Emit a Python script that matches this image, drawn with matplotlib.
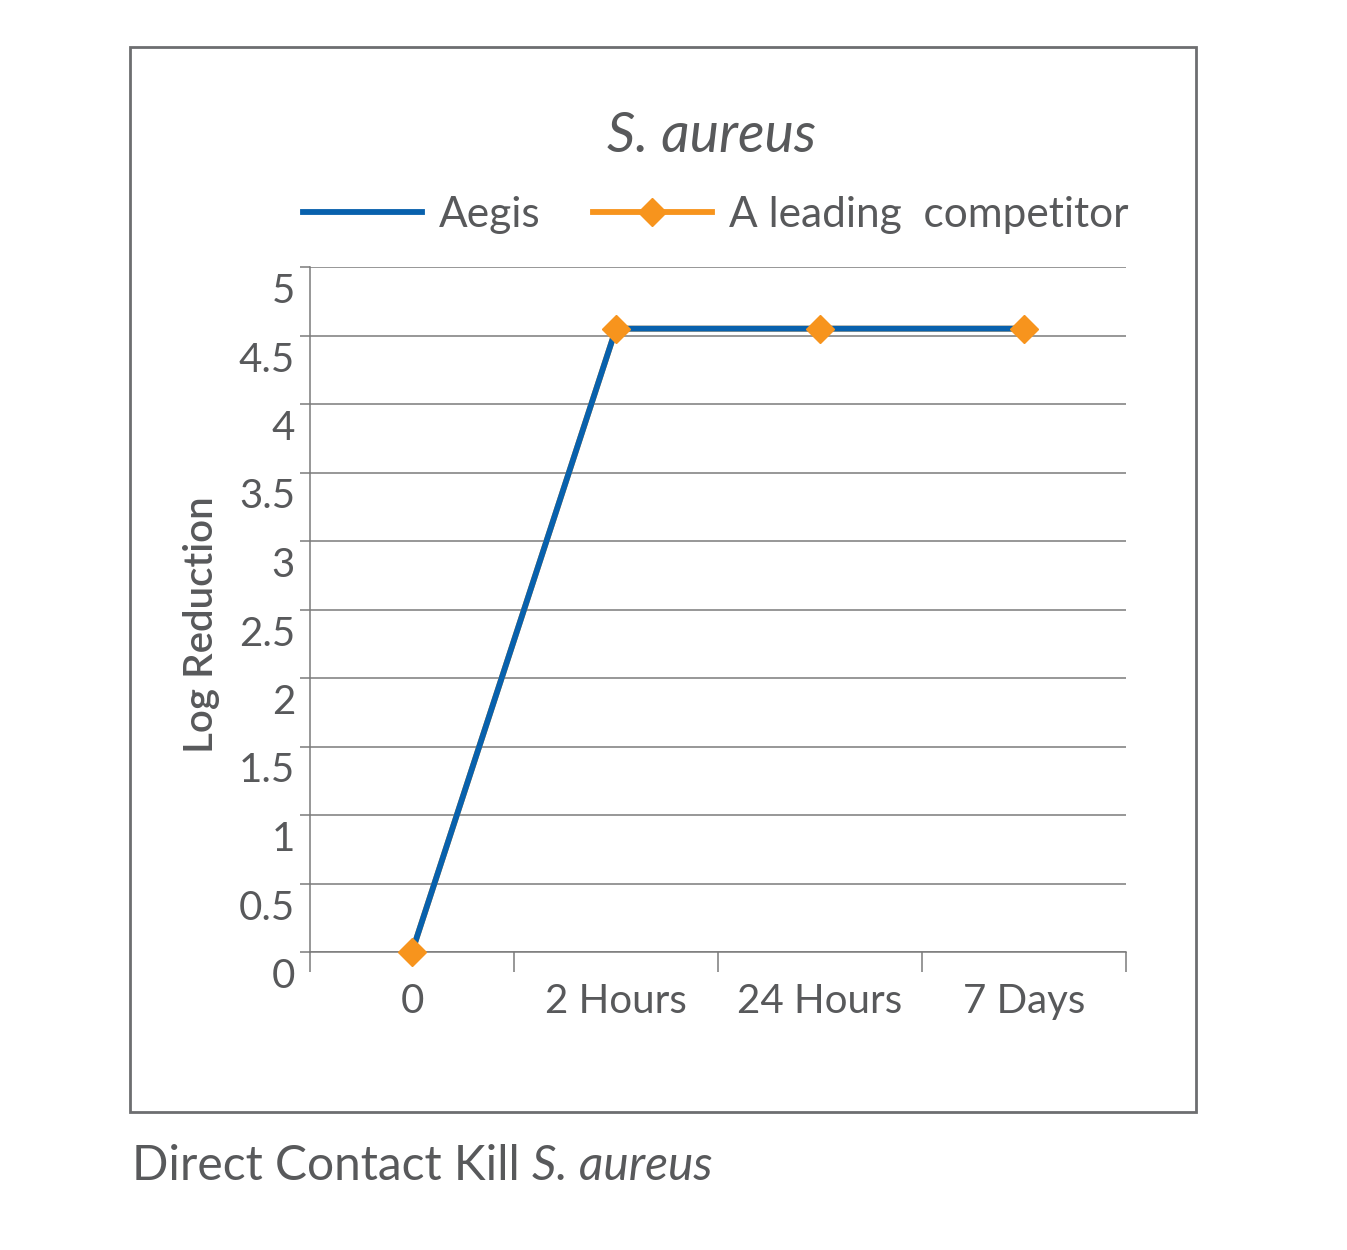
import matplotlib.pyplot as plt
import matplotlib.transforms as mtransforms
from matplotlib.patches import Rectangle
from matplotlib.lines import Line2D

categories = ['0', '2 Hours', '24 Hours', '7 Days']
aegis = [0, 4.55, 4.55, 4.55]
competitor = [0, 4.55, 4.55, 4.55]
y_ticks = [0, 0.5, 1, 1.5, 2, 2.5, 3, 3.5, 4, 4.5, 5]
y_tick_labels = ['0', '0.5', '1', '1.5', '2', '2.5', '3', '3.5', '4', '4.5', '5']

TEXT = '#58595b'
GRID = '#7a7a7a'
BLUE = '#0861ad'
ORANGE = '#f7941d'

plt.rcParams['font.family'] = ['Lato', 'DejaVu Sans']

W, H = 1347, 1250
fig = plt.figure(figsize=(W / 100, H / 100), dpi=100)
ax = fig.add_axes([310 / W, 1 - 952 / H, (1126 - 310) / W, (952 - 267) / H])

x = range(len(categories))
# orange line sits under the blue one, only its markers show on top
ax.plot(x, competitor, color=ORANGE, lw=4.2, zorder=2, clip_on=False)
ax.plot(x, aegis, color=BLUE, lw=4.2, zorder=3, clip_on=False)
ax.plot(x, competitor, ls='none', marker='D', ms=14, color=ORANGE, zorder=4, clip_on=False)

ax.set_xlim(-0.5, 3.5)
ax.set_ylim(0, 5)
ax.set_xticks(list(x), categories)
ax.set_xticks([-0.5, 0.5, 1.5, 2.5, 3.5], minor=True)
ax.tick_params(axis='x', which='major', length=0, pad=22, labelsize=29, labelcolor=TEXT)
ax.tick_params(axis='x', which='minor', length=14.4, width=1.1, color=GRID)
ax.set_yticks(y_ticks, y_tick_labels)
ax.tick_params(axis='y', length=7.2, width=1.1, color=GRID, pad=3.6, labelsize=29, labelcolor=TEXT)
ax.grid(axis='y', color=GRID, lw=1.1)
ax.set_axisbelow(True)
for s in ['top', 'right']:
    ax.spines[s].set_visible(False)
for s in ['left', 'bottom']:
    ax.spines[s].set_color(GRID)
    ax.spines[s].set_linewidth(1.1)

# y labels sit a bit below their gridlines in the original
shift = mtransforms.ScaledTranslation(0, -21 / 100, fig.dpi_scale_trans)
for lbl in ax.get_yticklabels():
    lbl.set_transform(lbl.get_transform() + shift)

fig.text(201 / W, 1 - 625 / H, 'Log Reduction', rotation=90, ha='center', va='center',
         fontsize=29, weight='semibold', color=TEXT)

fig.text(712 / W, 1 - 136 / H, 'S. aureus', style='italic', ha='center', va='center',
         fontsize=40, color=TEXT)

handles = [Line2D([], [], color=BLUE, lw=4.2),
           Line2D([], [], color=ORANGE, lw=4.2, marker='D', ms=14)]
ax.legend(handles, ['Aegis', 'A leading  competitor'], ncol=2, frameon=False,
          loc='center left', bbox_to_anchor=(303 / W, 1 - 215 / H),
          bbox_transform=fig.transFigure, borderpad=0, borderaxespad=0,
          fontsize=30.5, labelcolor=TEXT, handlelength=2.8, handletextpad=0.4,
          columnspacing=1.25, numpoints=1)

fig.add_artist(Rectangle((130 / W, 1 - 1112 / H), (1196 - 130) / W, (1112 - 47) / H,
                         transform=fig.transFigure, fill=False, ec='#6d6e70', lw=2))

cap = fig.text(132 / W, 1 - 1166 / H, 'Direct Contact Kill ', ha='left', va='center',
               fontsize=34.5, color=TEXT)
r = fig.canvas.get_renderer()
bb = cap.get_window_extent(renderer=r)
fig.text(bb.x1 / W, 1 - 1166 / H, 'S. aureus', style='italic', ha='left', va='center',
         fontsize=34.5, color=TEXT)

fig.savefig('out.png', dpi=100)
